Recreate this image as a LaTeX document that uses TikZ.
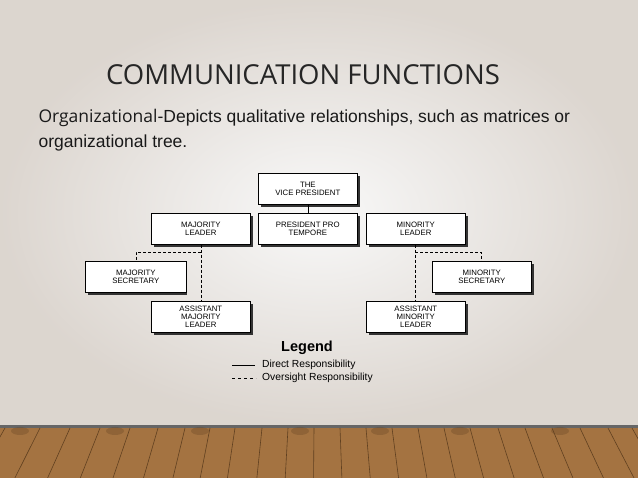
\documentclass[tikz,border=0pt]{standalone}
\usepackage{fontspec}
\setmainfont{Liberation Sans}
\newfontfamily\osans{Open Sans}
\begin{document}
\begin{tikzpicture}[x=1pt,y=-1pt,
  box/.style={draw=black,line width=0.6pt,fill=white,minimum width=99pt,minimum height=31pt,anchor=north west,align=center,font=\fontsize{7.8}{8.2}\selectfont,inner sep=0pt},
  dash line/.style={densely dashed,line width=0.6pt},
  solid line/.style={line width=0.6pt}]
\useasboundingbox (0,0) rectangle (638,478);
% background
\shade[inner color=white!95!gray, outer color=gray!25!white!90!brown] (0,0) rectangle (638,425);
% floor
\fill[brown!70!orange!80!white!75!black] (0,425) rectangle (638,478);
\fill[black!60] (0,425) rectangle (638,428);
\foreach \xa in {20,115,200,300,380,460,560}{
  \fill[brown!50!black,opacity=0.3] (\xa,431) ellipse (9pt and 4pt);
}
\foreach \xa in {5,40,70,100,130,158,185,210,235,262,288,314,340,366,392,418,444,470,498,525,552,580,608,632}{
  \draw[black!50!brown,line width=0.6pt] (\xa,428) -- ({\xa+(\xa-319)*0.09},478);
}
% title
\node[font=\osans\fontsize{27.5}{30}\selectfont,text=black!85] (title) at (303,75) {COMMUNICATION FUNCTIONS};
\node[anchor=west,font=\fontsize{17.5}{20}\selectfont,text=black!90] (l1) at (35,118) {{\osans Organizational}-Depicts qualitative relationships, such as matrices or};
\node[anchor=west,font=\fontsize{17.5}{20}\selectfont,text=black!90] (l2) at (35,143) {organizational tree.};
% shadows
\foreach \x/\y in {258/173,151/213,258/213,366/213,85/261,432/261,151/301,366/301}{
  \fill[black!80] (\x+3,\y+3) rectangle (\x+102,\y+34);
}
\node[box] (vp) at (258,173) {THE\\VICE PRESIDENT};
\node[box] (maj) at (151,213) {MAJORITY\\LEADER};
\node[box] (ppt) at (258,213) {PRESIDENT PRO\\TEMPORE};
\node[box] (min) at (366,213) {MINORITY\\LEADER};
\node[box,minimum width=101pt] (majs) at (85,261) {MAJORITY\\SECRETARY};
\node[box] (mins) at (432,261) {MINORITY\\SECRETARY};
\node[box] (amaj) at (151,301) {ASSISTANT\\MAJORITY\\LEADER};
\node[box] (amin) at (366,301) {ASSISTANT\\MINORITY\\LEADER};
% connectors
\draw[solid line] (vp.south) -- (ppt.north);
\coordinate (mj) at (201,252);
\coordinate (mn) at (415,252);
\draw[dash line] (maj.south -| mj) -- (amaj.north -| mj);
\draw[dash line] (mj) -| (majs.north -| 136,0);
\draw[dash line] (min.south -| mn) -- (amin.north -| mn);
\draw[dash line] (mn) -| (mins.north -| 481,0);
% legend
\node[font=\bfseries\fontsize{14.5}{16}\selectfont] (leg) at (307,348) {Legend};
\node[anchor=west,font=\fontsize{10.3}{12}\selectfont,inner sep=0pt] (dr) at (262,365) {Direct Responsibility};
\node[anchor=west,font=\fontsize{10.3}{12}\selectfont,inner sep=0pt] (or) at (262,378) {Oversight Responsibility};
\coordinate (d1) at (232,365); \coordinate (d2) at (255,365);
\coordinate (o1) at (232,378); \coordinate (o2) at (256,378);
\draw[solid line] (d1) -- (d2);
\draw[dash line,dash pattern=on 3pt off 3pt] (o1) -- (o2);
\end{tikzpicture}
\end{document}
